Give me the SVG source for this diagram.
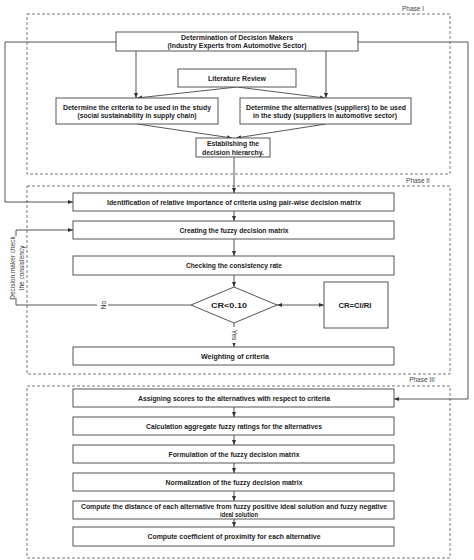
<svg xmlns="http://www.w3.org/2000/svg" width="474" height="560" viewBox="0 0 474 560">
<style>
.bg{fill:#ffffff}
.box{fill:#ffffff;stroke:#555555;stroke-width:1}
.phase{fill:none;stroke:#777777;stroke-width:1;stroke-dasharray:3,2}
.ln{fill:none;stroke:#444444;stroke-width:0.9}
.t{font-family:"Liberation Sans",Arial,sans-serif;font-size:7px;font-weight:bold;fill:#222222;text-anchor:middle;dominant-baseline:central}
.pl{font-family:"Liberation Sans",Arial,sans-serif;font-size:6.5px;fill:#444444;text-anchor:middle;dominant-baseline:central}
.lab{font-family:"Liberation Sans",Arial,sans-serif;font-size:6.5px;fill:#333333;text-anchor:middle;dominant-baseline:central}
</style>
<defs>
<marker id="ah" viewBox="0 0 10 10" refX="10" refY="5" markerWidth="5" markerHeight="5" orient="auto" markerUnits="userSpaceOnUse">
<path d="M0,1 L10,5 L0,9 Z" fill="#333333"/>
</marker>
<marker id="as" viewBox="0 0 10 10" refX="0" refY="5" markerWidth="5" markerHeight="5" orient="auto" markerUnits="userSpaceOnUse">
<path d="M10,1 L0,5 L10,9 Z" fill="#333333"/>
</marker>
</defs>
<rect class="bg" x="0" y="0" width="474" height="560"/>

<g id="phases">
<rect class="phase" x="27" y="14" width="423" height="160"/>
<text class="pl" x="413" y="8">Phase I</text>
<rect class="phase" x="27" y="186" width="423" height="188"/>
<text class="pl" x="418" y="180">Phase II</text>
<rect class="phase" x="27" y="386" width="423" height="172"/>
<text class="pl" x="422" y="379">Phase III</text>
</g>

<g id="connectors">
<polyline class="ln" points="116,42 5,42 5,202 73,202" marker-end="url(#ah)"/>
<polyline class="ln" points="358,42 468,42 468,399 394,399" marker-end="url(#ah)"/>
<line class="ln" x1="136" y1="51" x2="136" y2="98" marker-end="url(#ah)"/>
<line class="ln" x1="326" y1="51" x2="326" y2="98" marker-end="url(#ah)"/>
<line class="ln" x1="237" y1="87" x2="137" y2="98" marker-end="url(#ah)"/>
<line class="ln" x1="237" y1="87" x2="325" y2="98" marker-end="url(#ah)"/>
<line class="ln" x1="137" y1="124" x2="232" y2="138" marker-end="url(#ah)"/>
<line class="ln" x1="326" y1="124" x2="236" y2="138" marker-end="url(#ah)"/>
<line class="ln" x1="234" y1="157" x2="234" y2="193" marker-end="url(#ah)"/>
<line class="ln" x1="234" y1="211" x2="234" y2="221" marker-end="url(#ah)"/>
<line class="ln" x1="234" y1="239" x2="234" y2="256" marker-end="url(#ah)"/>
<line class="ln" x1="234" y1="275" x2="234" y2="287" marker-end="url(#ah)"/>
<line class="ln" x1="277" y1="305" x2="324" y2="305" marker-start="url(#as)" marker-end="url(#ah)"/>
<polyline class="ln" points="191,305 16,305 16,230 73,230" marker-end="url(#ah)"/>
<line class="ln" x1="234" y1="323" x2="234" y2="347" marker-end="url(#ah)"/>
<line class="ln" x1="234" y1="407" x2="234" y2="417" marker-end="url(#ah)"/>
<line class="ln" x1="234" y1="435" x2="234" y2="445" marker-end="url(#ah)"/>
<line class="ln" x1="234" y1="463" x2="234" y2="473" marker-end="url(#ah)"/>
<line class="ln" x1="234" y1="491" x2="234" y2="501" marker-end="url(#ah)"/>
<line class="ln" x1="234" y1="519" x2="234" y2="527" marker-end="url(#ah)"/>
<rect class="bg" x="97" y="298" width="11" height="14"/>
<text class="lab" transform="translate(103,305) rotate(-90)">No</text>
<rect class="bg" x="229" y="327" width="10" height="16"/>
<text class="lab" transform="translate(234,335) rotate(90)">Yes</text>
<rect class="bg" x="6" y="236" width="19" height="62"/>
<text class="lab" transform="translate(12,268) rotate(-90)">Decision maker check</text>
<text class="lab" transform="translate(21,268) rotate(-90)">the consistency</text>
</g>

<g id="n_dm">
<rect class="box" x="116" y="32" width="242" height="19"/>
<text class="t" x="237" y="37.5" textLength="112" lengthAdjust="spacingAndGlyphs">Determination of Decision Makers</text>
<text class="t" x="237" y="45.5" textLength="139" lengthAdjust="spacingAndGlyphs">(Industry Experts from Automotive Sector)</text>
</g>
<g id="n_lit">
<rect class="box" x="178" y="69" width="118" height="18"/>
<text class="t" x="237" y="78.5" textLength="58" lengthAdjust="spacingAndGlyphs">Literature Review</text>
</g>
<g id="n_crit">
<rect class="box" x="56" y="98" width="162" height="26"/>
<text class="t" x="137" y="107" textLength="148" lengthAdjust="spacingAndGlyphs">Determine the criteria to be used in the study</text>
<text class="t" x="137" y="115.5" textLength="119" lengthAdjust="spacingAndGlyphs">(social sustainability in supply chain)</text>
</g>
<g id="n_alt">
<rect class="box" x="240" y="98" width="171" height="26"/>
<text class="t" x="326" y="107" textLength="160" lengthAdjust="spacingAndGlyphs">Determine the alternatives (suppliers) to be used</text>
<text class="t" x="325" y="115.5" textLength="144" lengthAdjust="spacingAndGlyphs">in the study (suppliers in automotive sector)</text>
</g>
<g id="n_hier">
<rect class="box" x="196" y="138" width="74" height="19"/>
<text class="t" x="233" y="143.5" textLength="52" lengthAdjust="spacingAndGlyphs">Establishing the</text>
<text class="t" x="233" y="152" textLength="62" lengthAdjust="spacingAndGlyphs">decision hierarchy.</text>
</g>
<g id="n_ident">
<rect class="box" x="73" y="193" width="321" height="18"/>
<text class="t" x="234" y="202" textLength="254" lengthAdjust="spacingAndGlyphs">Identification of relative importance of criteria using pair-wise decision matrix</text>
</g>
<g id="n_fuzzy">
<rect class="box" x="73" y="221" width="321" height="18"/>
<text class="t" x="234" y="230" textLength="109" lengthAdjust="spacingAndGlyphs">Creating the fuzzy decision matrix</text>
</g>
<g id="n_check">
<rect class="box" x="73" y="256" width="321" height="19"/>
<text class="t" x="234" y="265.5" textLength="96" lengthAdjust="spacingAndGlyphs">Checking the consistency rate</text>
</g>
<g id="n_dec">
<polygon class="box" points="234,287 277,305 234,323 191,305"/>
<text class="t" x="229" y="305" textLength="36" lengthAdjust="spacingAndGlyphs">CR&lt;0.10</text>
</g>
<g id="n_cr">
<rect class="box" x="324" y="282" width="64" height="46"/>
<text class="t" x="355" y="305" textLength="33" lengthAdjust="spacingAndGlyphs">CR=CI/RI</text>
</g>
<g id="n_weight">
<rect class="box" x="73" y="347" width="321" height="18"/>
<text class="t" x="235" y="356" textLength="68" lengthAdjust="spacingAndGlyphs">Weighting of criteria</text>
</g>
<g id="n_assign">
<rect class="box" x="73" y="389" width="321" height="18"/>
<text class="t" x="234" y="398" textLength="192" lengthAdjust="spacingAndGlyphs">Assigning scores to the alternatives with respect to criteria</text>
</g>
<g id="n_calc">
<rect class="box" x="73" y="417" width="321" height="18"/>
<text class="t" x="234" y="426" textLength="176" lengthAdjust="spacingAndGlyphs">Calculation aggregate fuzzy ratings for the alternatives</text>
</g>
<g id="n_form">
<rect class="box" x="73" y="445" width="321" height="18"/>
<text class="t" x="234" y="454" textLength="131" lengthAdjust="spacingAndGlyphs">Formulation of the fuzzy decision matrix</text>
</g>
<g id="n_norm">
<rect class="box" x="73" y="473" width="321" height="18"/>
<text class="t" x="234" y="482" textLength="137" lengthAdjust="spacingAndGlyphs">Normalization of the fuzzy decision matrix</text>
</g>
<g id="n_dist">
<rect class="box" x="73" y="501" width="321" height="18"/>
<text class="t" x="234" y="506" textLength="306" lengthAdjust="spacingAndGlyphs">Compute the distance of each alternative from fuzzy positive ideal solution and fuzzy negative</text>
<text class="t" x="239" y="514" textLength="38" lengthAdjust="spacingAndGlyphs">ideal solution</text>
</g>
<g id="n_coef">
<rect class="box" x="73" y="527" width="321" height="19"/>
<text class="t" x="234" y="536.5" textLength="173" lengthAdjust="spacingAndGlyphs">Compute coefficient of proximity for each alternative</text>
</g>
</svg>
